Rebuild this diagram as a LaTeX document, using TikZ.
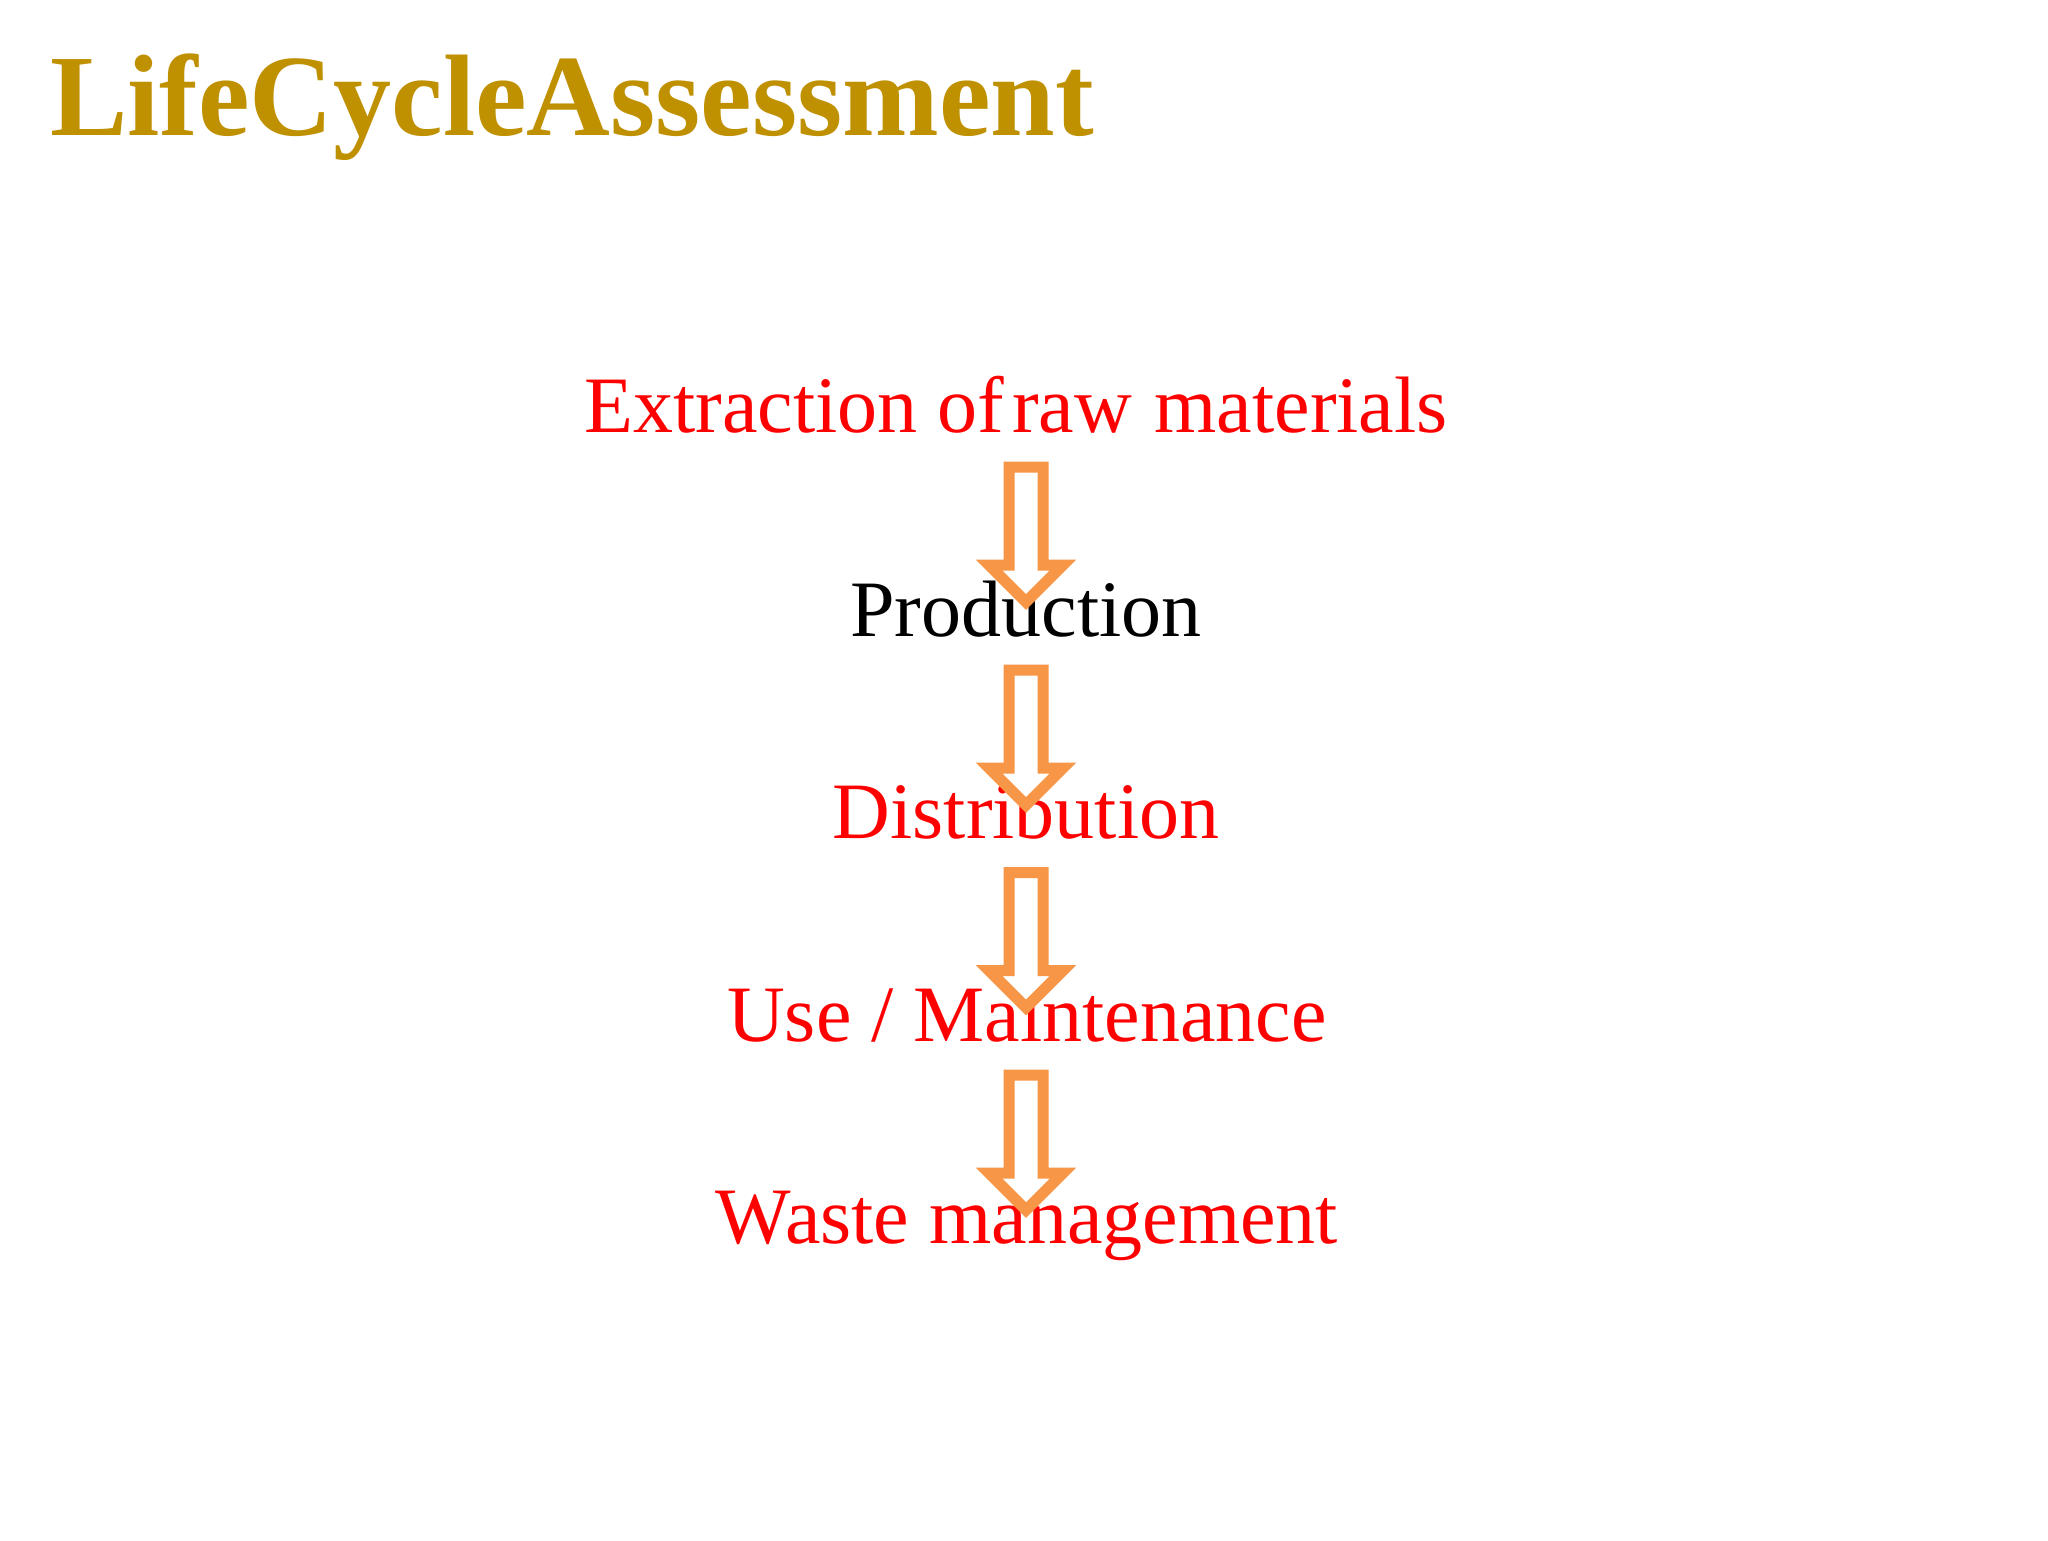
\documentclass[tikz,border=0pt]{standalone}
\usepackage{fontspec}
\setmainfont{Liberation Serif}
\usetikzlibrary{positioning,calc}
\definecolor{titlegold}{RGB}{191,144,0}
\definecolor{arroworange}{RGB}{247,150,70}
\tikzstyle{stage} = [inner sep=0pt, text=red, font=\fontsize{80}{90}\selectfont]
\tikzstyle{heading} = [inner sep=0pt, text=titlegold, font=\fontsize{116}{120}\selectfont\bfseries]
\tikzset{flowarrow/.pic={
  \draw[arroworange, fill=white, line width=11pt, line join=miter]
    (-17,67) -- (-17,-31) -- (-37,-31) -- (0,-68) -- (37,-31) -- (17,-31) -- (17,67) -- cycle;
}}

\begin{document}
\begin{tikzpicture}[x=1pt, y=1pt, node distance=203pt]
    \fill[white] (0,0) rectangle (2048,-1540);
    \useasboundingbox (0,0) rectangle (2048,-1540);
    \node[heading, anchor=base west] (title) at (50,-135) {LifeCycleAssessment};
    
    \node[stage, anchor=base] (extract) at (1016,-432) {Extraction of\kern0.1em raw\hspace{0.28em}materials};
    \node[stage, text=black, below=204pt of extract.base, anchor=base, xshift=10pt] (prod) {Production};
    \node[stage, below=202pt of prod.base, anchor=base] (distr) {Distribution};
    \node[stage, below=203pt of distr.base, anchor=base, xshift=1pt] (use) {Use / Maintenance};
    \node[stage, below=202pt of use.base, anchor=base] (waste) {Waste management};
    
    % arrows sit halfway between two baselines
    \coordinate (m1) at ($(extract.base)!0.5!(prod.base)$);
    \coordinate (m2) at ($(prod.base)!0.5!(distr.base)$);
    \coordinate (m3) at ($(distr.base)!0.5!(use.base)$);
    \coordinate (m4) at ($(use.base)!0.5!(waste.base)$);
    \foreach \m in {m1,m2,m3,m4}
        \pic at (prod.base |- \m) {flowarrow};
\end{tikzpicture}
\end{document}
